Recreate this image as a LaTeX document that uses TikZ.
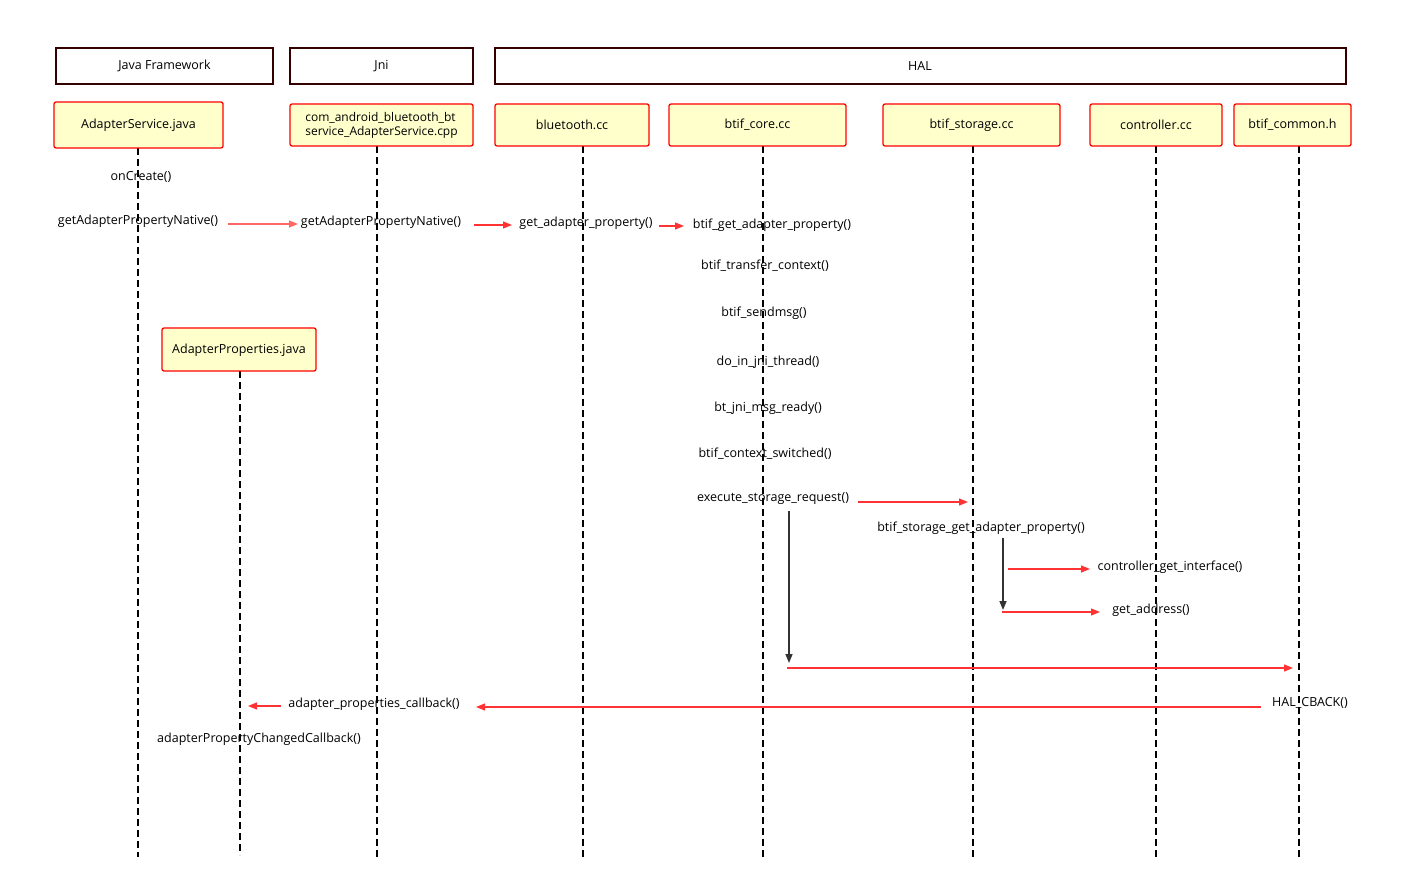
\documentclass[tikz,border=0pt]{standalone}
\usepackage{fontspec}
\setmainfont{Open Sans}
\usetikzlibrary{arrows.meta}
\definecolor{hdr}{HTML}{330000}
\definecolor{ylw}{HTML}{FFFFCC}
\definecolor{rd}{HTML}{FF3333}
\definecolor{pk}{HTML}{FF6666}
\begin{document}
\begin{tikzpicture}[x=1pt,y=-1pt,
  hdrbox/.style={draw=hdr,line width=1.5pt},
  cls/.style={draw=red,fill=ylw,line width=1.3pt,rounded corners=2pt},
  life/.style={dashed,line width=1.2pt,dash pattern=on 7pt off 4pt},
  msg/.style={draw=rd,line width=1.2pt,-{Triangle[length=9pt,width=7pt]}},
  blk/.style={draw=black!80,line width=1.5pt,-{Triangle[length=9pt,width=7pt]}}]
\useasboundingbox (0,0) rectangle (1419,890);
\tikzset{every node/.style={font=\fontsize{12.5}{14}\selectfont,inner sep=1pt}}
% headers
\draw[hdrbox] (56,48) rectangle (273,84); \node (hj) at (164.5,66) {Java Framework};
\draw[hdrbox] (290,48) rectangle (473,84); \node (hn) at (381.5,66) {Jni};
\draw[hdrbox] (495,48) rectangle (1346,84); \node (hh) at (920,66) {HAL};
% lifelines
\foreach \x/\t in {138/148,377/146,583/146,763/146,973/146,1156/146,1299/146}
  \draw[life] (\x,\t) -- (\x,857);
\draw[life] (240,371) -- (240,855);
% classes
\draw[cls] (54,102) rectangle (223,148); \node (as) at (138.5,125) {AdapterService.java};
\draw[cls] (290,104) rectangle (473,146); \node[align=left,font=\fontsize{12}{14}\selectfont] (jn) at (381.5,125) {com\_android\_bluetooth\_bt\\service\_AdapterService.cpp};
\draw[cls] (495,104) rectangle (649,146); \node (bt) at (572,125) {bluetooth.cc};
\draw[cls] (669,104) rectangle (846,146); \node (bc) at (757.5,125) {btif\_core.cc};
\draw[cls] (883,104) rectangle (1060,146); \node (bs) at (971.5,125) {btif\_storage.cc};
\draw[cls] (1090,104) rectangle (1222,146); \node (cc) at (1156,125) {controller.cc};
\draw[cls] (1234,104) rectangle (1351,146); \node (cm) at (1292.5,125) {btif\_common.h};
\draw[cls] (162,328) rectangle (316,371); \node (ap) at (239,350) {AdapterProperties.java};
% labels
\node (l1) at (141,177) {onCreate()};
\node (l2) at (138,221) {getAdapterPropertyNative()};
\node (l3) at (381,222) {getAdapterPropertyNative()};
\node (l4) at (586,223) {get\_adapter\_property()};
\node (l5) at (772,225) {btif\_get\_adapter\_property()};
\node (l6) at (765,266) {btif\_transfer\_context()};
\node (l7) at (764,313) {btif\_sendmsg()};
\node (l8) at (768,362) {do\_in\_jni\_thread()};
\node (l9) at (768,408) {bt\_jni\_msg\_ready()};
\node (l10) at (765,454) {btif\_context\_switched()};
\node (l11) at (773,499) {execute\_storage\_request()};
\node (l12) at (981,528) {btif\_storage\_get\_adapter\_property()};
\node (l13) at (1170,567) {controller\_get\_interface()};
\node (l14) at (1151,610) {get\_address()};
\node (l15) at (1310,703) {HAL\_CBACK()};
\node (l16) at (374,704) {adapter\_properties\_callback()};
\node (l17) at (259,739) {adapterPropertyChangedCallback()};
% coordinates
\coordinate (a1) at (228,224); \coordinate (a2) at (298,224);
\coordinate (b1) at (474,225); \coordinate (b2) at (512,225);
\coordinate (c1) at (659,226); \coordinate (c2) at (684,226);
\coordinate (d1) at (858,502); \coordinate (d2) at (968,502);
\coordinate (e1) at (1003,538); \coordinate (e2) at (1003,610);
\coordinate (f1) at (1008,569); \coordinate (f2) at (1090,569);
\coordinate (g1) at (1002,612); \coordinate (g2) at (1100,612);
\coordinate (h1) at (789,511); \coordinate (h2) at (789,663);
\coordinate (i1) at (787,668); \coordinate (i2) at (1293,668);
\coordinate (j1) at (1261,707); \coordinate (j2) at (476,707);
\coordinate (k1) at (281,706); \coordinate (k2) at (248,706);
\draw[msg,draw=pk] (a1) -- (a2);
\draw[msg] (b1) -- (b2);
\draw[msg] (c1) -- (c2);
\draw[msg] (d1) -- (d2);
\draw[blk] (e1) -- (e2);
\draw[msg] (f1) -- (f2);
\draw[msg] (g1) -- (g2);
\draw[blk] (h1) -- (h2);
\draw[msg] (i1) -- (i2);
\draw[msg] (j1) -- (j2);
\draw[msg] (k1) -- (k2);
\end{tikzpicture}
\end{document}
